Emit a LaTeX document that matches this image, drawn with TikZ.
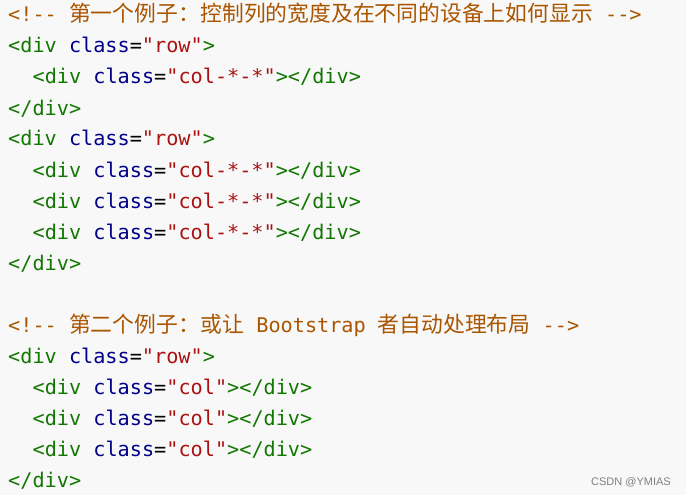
\documentclass[tikz,border=0pt]{standalone}
\usepackage{fontspec}
\setmonofont{DejaVu Sans Mono}
\newfontfamily\cjk{Noto Sans CJK SC}
\newfontfamily\wmk{Liberation Sans}
\definecolor{tg}{HTML}{117700}
\definecolor{at}{HTML}{000088}
\definecolor{st}{HTML}{AA1111}
\definecolor{cm}{HTML}{AA5500}
\definecolor{bg}{HTML}{F8F8F8}
\newcommand{\Tg}[1]{\textcolor{tg}{#1}}
\newcommand{\At}[1]{\textcolor{at}{#1}}
\newcommand{\St}[1]{\textcolor{st}{#1}}
\newcommand{\Cm}[1]{\textcolor{cm}{#1}}
\newcommand{\Zh}[1]{{\cjk\fontsize{21.8}{24}\selectfont #1}}
\newcommand{\Col}{\makebox[22.6pt][l]{\Zh{：}}}
\newcommand{\dv}[1]{\Tg{<div} \At{class}=\St{"#1"}\Tg{>}}
\begin{document}
\begin{tikzpicture}[x=1pt,y=-1pt,
  ln/.style={anchor=base west,inner sep=0pt,font=\fontsize{20.2}{24}\ttfamily}]
\fill[bg] (0,0) rectangle (686,495);
\useasboundingbox (0,0) rectangle (686,495);
\node[ln] (l1) at (8,22) {\Cm{<!-{}- \Zh{第一个例子}\Col\Zh{控制列的宽度及在不同的设备上如何显示} -{}->}};
\node[ln] (l2) at (8,53) {\dv{row}};
\node[ln] (l3) at (32.4,84) {\dv{col-*-*}\Tg{</div>}};
\node[ln] (l4) at (8,115) {\Tg{</div>}};
\node[ln] (l5) at (8,146) {\dv{row}};
\node[ln] (l6) at (32.4,177) {\dv{col-*-*}\Tg{</div>}};
\node[ln] (l7) at (32.4,208) {\dv{col-*-*}\Tg{</div>}};
\node[ln] (l8) at (32.4,239) {\dv{col-*-*}\Tg{</div>}};
\node[ln] (l9) at (8,270) {\Tg{</div>}};
\node[ln] (l10) at (8,332) {\Cm{<!-{}- \Zh{第二个例子}\Col\Zh{或让} Bootstrap \Zh{者自动处理布局} -{}->}};
\node[ln] (l11) at (8,363) {\dv{row}};
\node[ln] (l12) at (32.4,394) {\dv{col}\Tg{</div>}};
\node[ln] (l13) at (32.4,425) {\dv{col}\Tg{</div>}};
\node[ln] (l14) at (32.4,456) {\dv{col}\Tg{</div>}};
\node[ln] (l15) at (8,487) {\Tg{</div>}};
\node[anchor=base east,inner sep=0pt,font=\wmk\fontsize{11}{13}\selectfont,text=gray] (wm) at (671,485) {CSDN @YMIAS};
\end{tikzpicture}
\end{document}
